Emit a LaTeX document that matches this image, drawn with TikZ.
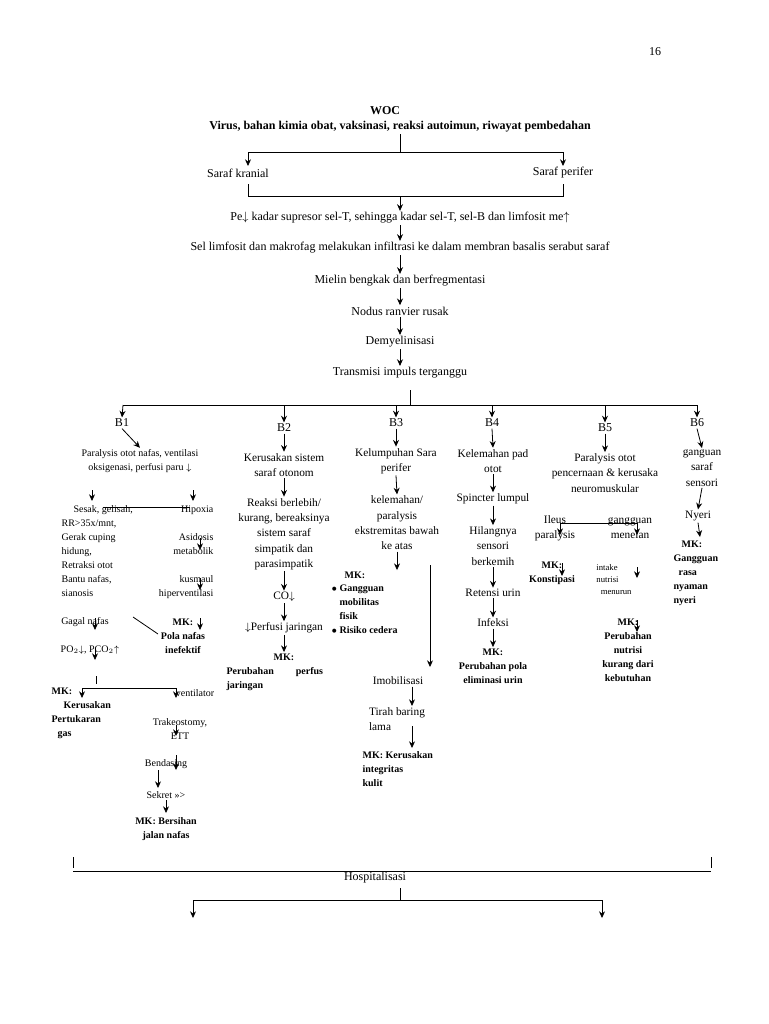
\documentclass[tikz,border=0pt]{standalone}
\usepackage{fontspec}
\setmainfont{Liberation Serif}
\usetikzlibrary{arrows.meta}
\begin{document}
\begin{tikzpicture}[x=0.75pt,y=-0.75pt,
  t/.style={inner sep=1pt,align=center,font=\fontsize{9}{11.5}\selectfont},
  m/.style={inner sep=1pt,align=center,font=\fontsize{8.5}{11.5}\selectfont},
  s/.style={inner sep=1pt,align=center,font=\fontsize{7.5}{10.5}\selectfont},
  bs/.style={inner sep=1pt,align=center,font=\fontsize{7.5}{10.5}\selectfont\bfseries},
  arr/.style={-{Stealth[length=5pt,width=4.5pt]},line width=0.6pt},
  ln/.style={line width=0.6pt}]
\useasboundingbox (0,0) rectangle (768,1024);
\node[t] (pg) at (655,52) {16};
\node[t,font=\fontsize{9}{11}\selectfont\bfseries] (woc) at (385,111) {WOC};
\node[t,font=\fontsize{9}{11}\selectfont\bfseries] (ttl) at (400,127) {Virus, bahan kimia obat, vaksinasi, reaksi autoimun, riwayat pembedahan};
\coordinate (c1) at (400,152); \coordinate (cl) at (248,152); \coordinate (cr) at (563,152);
\draw[ln] (ttl.south -| c1) -- (c1); \draw[ln] (cl) -- (cr);
\node[t] (kr) at (238,173) {Saraf kranial};
\node[t] (pf) at (563,173) {Saraf perifer};
\draw[arr] (cl) -- (248,166); \draw[arr] (cr) -- (563,166);
\coordinate (c2) at (400,196);
\draw[ln] (248,184) -- (248,196) -- (563,196) -- (563,184);
\node[t] (n1) at (400,218) {Pe$\downarrow$ kadar supresor sel-T, sehingga kadar sel-T, sel-B dan limfosit me$\uparrow$};
\draw[arr] (c2) -- (n1.north);
\node[t] (n2) at (400,248) {Sel limfosit dan makrofag melakukan infiltrasi ke dalam membran basalis serabut saraf};
\node[t] (n3) at (400,281) {Mielin bengkak dan berfregmentasi};
\node[t] (n4) at (400,311) {Nodus ranvier rusak};
\node[t] (n5) at (400,342) {Demyelinisasi};
\node[t] (n6) at (400,373) {Transmisi impuls terganggu};
\foreach \a/\b in {n1/n2,n2/n3,n3/n4,n4/n5,n5/n6} \draw[arr] (\a.south) -- (\b.north);
\draw[ln] (410,390) -- (410,405); \draw[ln] (123,405) -- (697,405);
\node[t] (b1) at (122,423) {B1}; \node[t] (b2) at (284,428) {B2};
\node[t] (b3) at (396,423) {B3}; \node[t] (b4) at (492,423) {B4};
\node[t] (b5) at (605,428) {B5}; \node[t] (b6) at (697,423) {B6};
\foreach \b/\x in {b1/123,b2/284,b3/396,b4/492,b5/605,b6/697} \draw[arr] (\x,405) -- (\b.north);
% B1
\node[s] (p1) at (140,461) {Paralysis otot nafas, ventilasi\\oksigenasi, perfusi paru $\downarrow$};
\draw[arr] (b1.south) -- (p1.north);
\coordinate (a1) at (92,490); \coordinate (a2) at (193,490);
\draw[arr] (a1) -- (92,501); \draw[arr] (a2) -- (193,501);
\node[s,align=left,anchor=north west] (ss) at (60,504) {\hspace{1.2em}Sesak, gelisah,\\RR>35x/mnt,\\Gerak cuping\\hidung,\\Retraksi otot\\Bantu nafas,\\sianosis};
\node[s,align=right,anchor=north east] (hx) at (215,504) {Hipoxia\\ \\Asidosis\\metabolik\\ \\kusmaul\\hiperventilasi};
\draw[ln] (103,507) -- (190,507);
\draw[arr] (200,538) -- (200,550); \draw[arr] (200,578) -- (200,590);
\node[s] (gn) at (85,622) {Gagal nafas};
\node[bs] (mk1) at (183,636) {MK:\\Pola nafas\\inefektif};
\draw[ln] (133,617) -- (158,634);
\draw[arr] (95,618) -- (95,630); \draw[arr] (200,618) -- (200,630);
\node[s] (po) at (90,650) {PO$_2$$\downarrow$, PCO$_2$$\uparrow$};
\draw[arr] (95,648) -- (95,660);
\draw[ln] (96,676) -- (96,684); \draw[ln] (82,688) -- (176,688);
\draw[arr] (82,688) -- (82,698); \draw[arr] (176,688) -- (176,698);
\node[bs,align=left,anchor=north west] (mk2) at (50,686) {MK:\\\hspace{1.2em}Kerusakan\\Pertukaran\\\hspace{0.6em}gas};
\node[s] (vt) at (195,693) {ventilator};
\node[s] (tr) at (180,729) {Trakeostomy,\\ETT};
\draw[arr] (176,725) -- (176,736);
\draw[arr] (176,755) -- (176,770);
\node[s] (bd) at (166,764) {Bendasing};
\node[s] (sk) at (166,795) {Sekret >>>};
\draw[arr] (158,770) -- (158,788);
\draw[arr] (sk.south) -- (166,813);
\node[bs] (mk3) at (166,829) {MK: Bersihan\\jalan nafas};
% B2
\node[m] (k2) at (284,465) {Kerusakan sistem\\saraf otonom};
\node[m] (r2) at (284,534) {Reaksi berlebih/\\kurang, bereaksinya\\sistem saraf\\simpatik dan\\parasimpatik};
\node[m] (co) at (284,597) {CO$\downarrow$};
\node[m] (pj) at (284,628) {$\downarrow$Perfusi jaringan};
\node[bs] (mk4) at (284,657) {MK:};
\node[bs,align=left,anchor=west] (mk4b) at (225,679) {Perubahan\hspace{2.2em}perfus\\jaringan};
\foreach \a/\b in {b2/k2,k2/r2,r2/co,co/pj,pj/mk4} \draw[arr] (\a.south) -- (\b.north);
% B3
\node[m] (k3) at (396,461) {Kelumpuhan Sara\\perifer};
\node[m] (e3) at (397,523) {kelemahan/\\paralysis\\ekstremitas bawah\\ke atas};
\node[bs] (mk5h) at (355,575) {MK:};
\node[bs,align=left,anchor=north west] (mk5) at (330,583) {$\bullet$ Gangguan\\\hspace{0.8em}mobilitas\\\hspace{0.8em}fisik\\$\bullet$ Risiko cedera};
\draw[arr] (b3.south) -- (k3.north); \draw[arr] (k3.south) -- (e3.north);
\draw[arr] (e3.south) -- (mk5h.north -| e3);
\node[m] (im) at (398,681) {Imobilisasi};
\draw[arr] (430,565) -- (430,667);
\node[m,align=left] (tb) at (397,719) {Tirah baring\\lama};
\draw[arr] (im.south -| 412,0) -- (412,706);
\draw[arr] (412,726) -- (412,748);
\node[bs,align=left,anchor=north west] (mk6) at (361,750) {MK: Kerusakan\\integritas\\kulit};
% B4
\node[m] (k4) at (493,461) {Kelemahan pad\\otot};
\node[m] (sp) at (493,499) {Spincter lumpul};
\node[m] (hl) at (493,546) {Hilangnya\\sensori\\berkemih};
\node[m] (ru) at (493,593) {Retensi urin};
\node[m] (inf) at (493,623) {Infeksi};
\node[bs] (mk7) at (493,666) {MK:\\Perubahan pola\\eliminasi urin};
\foreach \a/\b in {b4/k4,k4/sp,sp/hl,hl/ru,ru/inf,inf/mk7} \draw[arr] (\a.south) -- (\b.north);
% B5
\node[m] (p5) at (605,473) {Paralysis otot\\pencernaan \& kerusaka\\neuromuskular};
\draw[arr] (b5.south) -- (p5.north);
\node[m] (il) at (555,528) {Ileus\\paralysis};
\node[m] (gm) at (630,528) {gangguan\\menelan};
\draw[ln] (560,523) -- (637,523);
\draw[arr] (560,523) -- (560,535); \draw[arr] (637,523) -- (637,535);
\node[bs] (mk8) at (552,573) {MK:\\Konstipasi};
\draw[arr] (562,563) -- (562,576);
\node[s,align=left,font=\fontsize{6.5}{9}\selectfont] (itk) at (614,580) {intake\\nutrisi\\\hspace{0.5em}menurun};
\draw[arr] (637,567) -- (637,578);
\node[bs] (mk9) at (628,650) {MK:\\Perubahan\\nutrisi\\kurang dari\\kebutuhan};
\draw[arr] (637,620) -- (637,632);
% B6
\node[m] (g6) at (702,468) {ganguan\\saraf\\sensori};
\node[m] (ny) at (698,516) {Nyeri};
\node[bs,align=left,anchor=north west] (mk10) at (672,539) {\hspace{0.8em}MK:\\Gangguan\\\hspace{0.5em}rasa\\nyaman\\nyeri};
\draw[arr] (b6.south) -- (g6.north); \draw[arr] (g6.south) -- (ny.north);
\draw[arr] (ny.south) -- (700,537);
% bottom
\draw[ln] (73,857) -- (73,868); \draw[ln] (711,857) -- (711,868);
\draw[ln] (73,871) -- (711,871);
\node[t] (hs) at (375,878) {Hospitalisasi};
\draw[ln] (400,888) -- (400,900); \draw[ln] (193,900) -- (602,900);
\draw[arr] (193,900) -- (193,918); \draw[arr] (602,900) -- (602,918);
\end{tikzpicture}
\end{document}
